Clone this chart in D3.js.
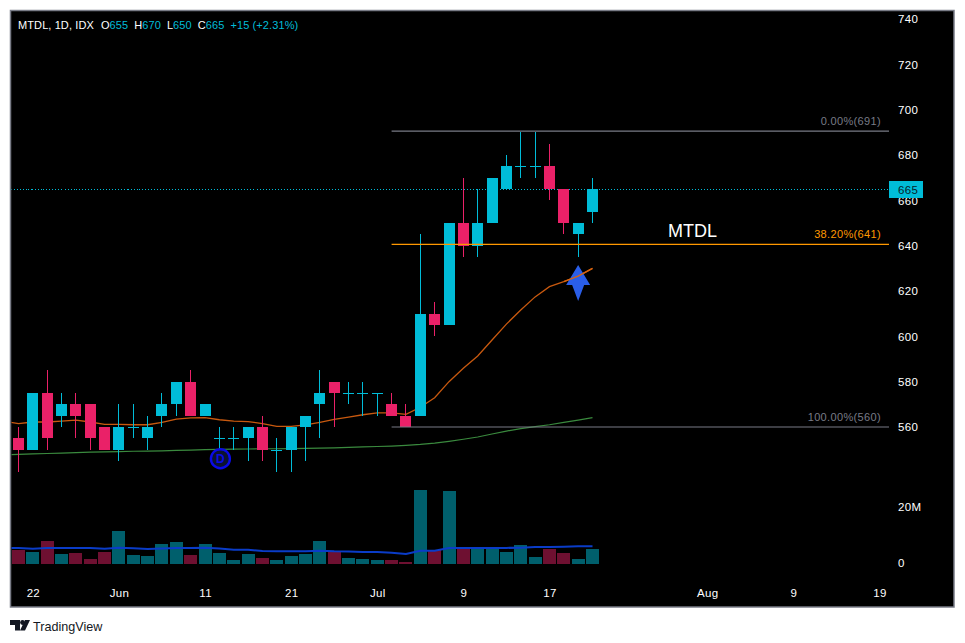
<!DOCTYPE html>
<html><head><meta charset="utf-8">
<script src="https://cdn.jsdelivr.net/npm/d3@7/dist/d3.min.js"></script>
<style>html,body{margin:0;padding:0;background:#fff}svg{display:block}text{font-family:"Liberation Sans",Arial,sans-serif}</style>
</head><body><div id="chart"></div>
<script>
const opens  = [555,550,575,565,570,570,560,550,560,555,565,570,580,565,555,555,555,560,550,550,560,570,580,575,575,575,570,565,565,610,605,650,640,650,665,675,675,675,665,645,655];
const highs  = [560,575,585,575,575,570,560,570,570,565,575,580,585,570,560,560,560,565,555,560,565,585,580,580,580,575,575,570,645,615,650,670,665,670,680,690,690,685,665,650,670];
const lows   = [540,550,550,560,555,550,550,545,555,550,560,565,565,565,550,550,545,545,540,540,545,555,560,570,565,565,565,560,565,600,605,635,635,650,665,670,670,660,645,635,650];
const closes = [550,575,555,570,565,555,550,560,560,560,570,580,565,570,555,555,560,550,550,560,565,575,575,575,575,575,565,560,610,605,650,640,650,670,675,675,675,665,650,650,665];
const volumes = [5.0,4.3,8.2,3.6,3.9,1.8,4.3,11.8,3.2,2.9,7.1,7.9,3.2,7.1,3.9,1.4,3.6,2.1,1.4,2.9,3.6,8.2,4.3,2.1,1.8,1.4,1.4,0.7,26.4,5.0,26.1,5.4,5.7,5.7,4.3,6.8,2.5,5.4,3.9,1.8,5.4];
// averages start one bar before the first candle (index -1), running off the left edge
const maFast = [562.6,561.5,562.2,562.2,562.6,563,562.2,561.2,561.2,561,561,562,563.5,564,564.1,563.2,562.6,562.4,561.5,560.3,560.3,560.9,562,563.4,564.4,565.4,566.2,566.2,565.6,568.7,572.9,580,585.9,591.3,598.4,605.4,611.6,617.4,621.9,624.1,626.6,630];
const maSlow = [547.8,547.9,548.1,548.3,548.5,548.7,548.9,549,549.1,549.3,549.4,549.5,549.7,549.8,550,550.1,550.2,550.3,550.4,550.4,550.5,550.6,550.7,550.8,551,551.2,551.4,551.6,551.9,552.3,552.9,553.7,554.6,555.6,556.9,558.2,559.3,560.2,561,562,563,564.1];
const maVolume = [5.7,5.71,5.48,5.71,5.71,5.71,5.71,5.48,5.83,5.6,5.36,5.5,5.71,5.75,5.83,5.5,5.12,5.12,4.64,4.55,4.52,4.52,4.76,4.52,4.45,4.29,4.29,4.05,3.57,4.76,4.76,5.71,5.71,5.71,5.71,5.75,5.83,6.07,6.1,6.2,6.31,6.31];
const priceTicks = [560,580,600,620,640,660,680,700,720,740];
const volumeTicks = [0,20];
const timeTickBars = [1,7,13,19,25,31,37,48,54,60];
const timeTickLabels = ["22","Jun","11","21","Jul","9","17","Aug","9","19"];
const fibPrices = [690.5,640.6,560];
const fibLabels = ["0.00%(691)","38.20%(641)","100.00%(560)"];
const lastPrice = 665;
const legendTitle = "MTDL, 1D, IDX";

const TEAL="#00bcd8",RED="#ea2168",W=965,H=643;
const L=10.5,T=10.5,R=954,B=607;
const svg=d3.select("#chart").append("svg").attr("width",W).attr("height",H);
const x=d3.scaleLinear().domain([0,60]).range([18.5,879.5]);
const y=d3.scaleLinear().domain([560,740]).range([427,19]);
const yVol=d3.scaleLinear().domain([0,20]).range([564,508]);
const up=i=>closes[i]>=opens[i];
const col=i=>up(i)?TEAL:RED;
const px=i=>Math.floor(x(i))+.5;

svg.append("rect").attr("x",L).attr("y",T).attr("width",R-L).attr("height",B-T).attr("fill","#000").attr("stroke","#787b86").attr("stroke-width",1.5);
svg.append("clipPath").attr("id","pane").append("rect").attr("x",L+1).attr("y",T+1).attr("width",878).attr("height",B-T-2);
const g=svg.append("g").attr("clip-path","url(#pane)");

// volume
const barW=13;
g.append("g").selectAll("rect").data(volumes).join("rect")
 .attr("x",(d,i)=>px(i)-barW/2).attr("width",barW)
 .attr("y",d=>Math.max(yVol(d),490)).attr("height",d=>yVol(0)-Math.max(yVol(d),490))
 .attr("fill",(d,i)=>up(i)?"#005f6c":"#6e1031").attr("shape-rendering","crispEdges");
const lineFrom=(sc,vals)=>d3.line().x((d,i)=>x(i-1)).y(d=>sc(d))(vals);
g.append("path").attr("d",lineFrom(yVol,maVolume)).attr("fill","none").attr("stroke","#0a3cc8").attr("stroke-width",2);

// dotted last price
g.append("line").attr("x1",L).attr("x2",889).attr("y1",y(lastPrice)).attr("y2",y(lastPrice))
 .attr("stroke",TEAL).attr("stroke-width",1).attr("stroke-dasharray","1 2").attr("shape-rendering","crispEdges");

// fib lines
const fibColors=["#787b86","#ff9800","#787b86"];
fibPrices.forEach((p,i)=>{
  svg.append("line").attr("x1",x(26)).attr("x2",889).attr("y1",y(p)).attr("y2",y(p)).attr("stroke",fibColors[i]).attr("stroke-width",1.2);
  svg.append("text").attr("x",881).attr("y",y(p)-6).attr("text-anchor","end").attr("font-size",11).attr("letter-spacing","0.35px").attr("fill",fibColors[i]).text(fibLabels[i]);
});

// moving averages
g.append("path").attr("d",lineFrom(y,maSlow)).attr("fill","none").attr("stroke","#3a8a3e").attr("stroke-width",1.2);
g.append("path").attr("d",lineFrom(y,maFast)).attr("fill","none").attr("stroke","#c8590f").attr("stroke-width",1.3);

// candles
const bodyW=11;
g.append("g").selectAll("line").data(opens).join("line")
 .attr("x1",(d,i)=>px(i)).attr("x2",(d,i)=>px(i)).attr("y1",(d,i)=>y(highs[i])).attr("y2",(d,i)=>y(lows[i]))
 .attr("stroke",(d,i)=>col(i)).attr("stroke-width",1).attr("shape-rendering","crispEdges");
g.append("g").selectAll("rect").data(opens).join("rect")
 .attr("x",(d,i)=>px(i)-bodyW/2).attr("width",bodyW)
 .attr("y",(d,i)=>y(Math.max(d,closes[i]))).attr("height",(d,i)=>Math.max(1,Math.abs(y(d)-y(closes[i]))))
 .attr("fill",(d,i)=>col(i)).attr("shape-rendering","crispEdges");

// arrow marker (behind the last stretch of the fast average)
const ax=x(39),aY=y(622.6);
svg.append("path").attr("d",`M${ax},${aY-20}L${ax+12},${aY}L${ax+6},${aY}L${ax},${aY+16}L${ax-6},${aY}L${ax-12},${aY}Z`).attr("fill","#2a5ee8");
svg.append("path").attr("d",d3.line().x(d=>x(d[0])).y(d=>y(d[1]))([[38,624.1],[39,626.6],[40,630]])).attr("fill","none").attr("stroke","#d8640f").attr("stroke-width",1.3);

// dividend marker
const dg=svg.append("g").attr("transform",`translate(${x(14)+1},${y(546)})`);
dg.append("circle").attr("r",9.5).attr("fill","#0b1230").attr("stroke","#0a0ae6").attr("stroke-width",2.4);
dg.append("text").attr("text-anchor","middle").attr("y",4.5).attr("font-size",12).attr("font-weight",700).attr("fill","#0a0ae6").text("D");

// axes
function styleAxis(a){
  a.select(".domain").remove(); a.selectAll(".tick line").remove();
  a.selectAll("text").attr("font-family",'"Liberation Sans",Arial,sans-serif').attr("font-size",11.5).attr("fill","#fff").attr("letter-spacing","0.3px");
}
svg.append("g").attr("transform",`translate(895,0)`)
 .call(d3.axisRight(y).tickValues(priceTicks).tickSize(0).tickPadding(3)).call(styleAxis);
svg.append("g").attr("transform",`translate(895,-1)`)
 .call(d3.axisRight(yVol).tickValues(volumeTicks).tickSize(0).tickPadding(3).tickFormat(d=>d?d+"M":"0")).call(styleAxis);
svg.append("g").attr("transform",`translate(0,585.5)`)
 .call(d3.axisBottom(x).tickValues(timeTickBars).tickSize(0).tickPadding(3).tickFormat((d,i)=>timeTickLabels[i])).call(styleAxis);

// last price label
svg.append("rect").attr("x",889).attr("y",y(lastPrice)-8).attr("width",34).attr("height",17).attr("fill",TEAL);
svg.append("text").attr("x",898).attr("y",y(lastPrice)+4.5).attr("font-size",11.5).attr("letter-spacing","0.3px").attr("fill","#07222a").text(lastPrice);

// drawn text label
svg.append("text").attr("x",668).attr("y",237).attr("font-size",18).attr("fill","#fff").text("MTDL");

// legend
const legend=svg.append("text").attr("x",18).attr("y",29).attr("font-size",11).attr("letter-spacing","0.1px");
legend.append("tspan").attr("fill","#fff").text(legendTitle);
[["O",opens[40]],["H",highs[40]],["L",lows[40]],["C",closes[40]]].forEach((p,i)=>{
  legend.append("tspan").attr("fill","#fff").attr("dx",i==0?7:6).text(p[0]);
  legend.append("tspan").attr("fill",TEAL).text(p[1]);
});
legend.append("tspan").attr("fill",TEAL).attr("dx",6).text("+15 (+2.31%)");

// attribution
const logo=svg.append("g").attr("fill","#131722");
logo.append("path").attr("d","M10,620H20V630.5H15V625H10ZM25,620H30L25,630.5H20Z");
logo.append("circle").attr("cx",22.5).attr("cy",622.5).attr("r",2.4);
svg.append("text").attr("x",33).attr("y",630.5).attr("font-size",12.6).attr("fill","#131722").text("TradingView");
</script></body></html>
